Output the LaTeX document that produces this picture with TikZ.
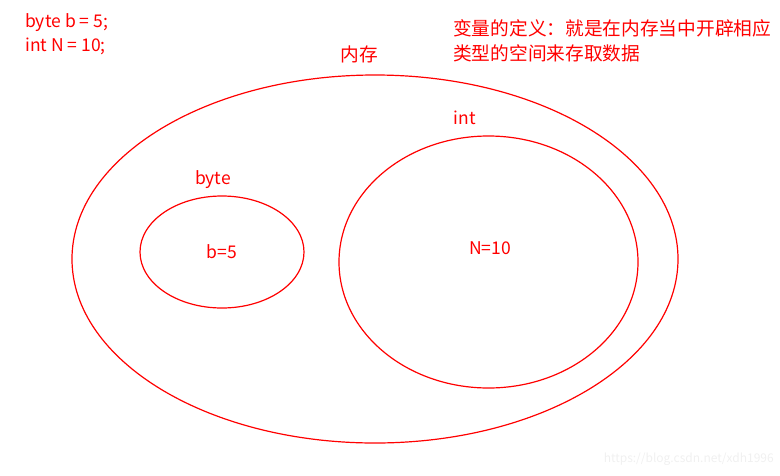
\documentclass[tikz,border=0pt]{standalone}
\usepackage{fontspec}
\setmainfont{Noto Sans CJK SC}
\usetikzlibrary{positioning,shapes.geometric}
\tikzset{
  mem/.style={ellipse, draw=red, line width=1.2pt, inner sep=0pt},
  lbl/.style={text=red, font=\fontsize{17.5}{24}\selectfont, inner sep=0pt},
  cjk/.style={lbl, font=\fontsize{18.7}{25}\selectfont},
  note/.style={anchor=north west, align=left},
  wmark/.style={text=black!6, font=\fontsize{12}{14}\selectfont, inner sep=0pt, anchor=south east}
}
\begin{document}
\begin{tikzpicture}[x=1pt, y=-1pt]
  \useasboundingbox (0,0) rectangle (780,475);
  % memory regions
  \node[mem, minimum width=606pt, minimum height=368pt] (ram) at (375,259) {};
  \node[mem, minimum width=164pt, minimum height=112pt] (bytebox) at (222,252) {};
  \node[mem, minimum width=299pt, minimum height=252pt] (intbox) at (488.5,262) {};
  % labels
  \node[cjk] (ramlbl) at (359,54) {内存};
  \node[lbl] (bytelbl) at (213,180) {byte};
  \node[lbl] (intlbl) at (465,118) {int};
  \node[lbl] (bval) at (bytebox) {b=5};
  \node[lbl] (nval) at (490,248) {N=10};
  % notes
  \node[lbl, note] (code) at (25,13) {byte b = 5;\\int N = 10;};
  \node[cjk, note] (defn) at (453,19) {变量的定义：就是在内存当中开辟相应\\类型的空间来存取数据};
  \node[wmark] (wm) at (774,466) {https://blog.csdn.net/xdh1996};
\end{tikzpicture}
\end{document}
